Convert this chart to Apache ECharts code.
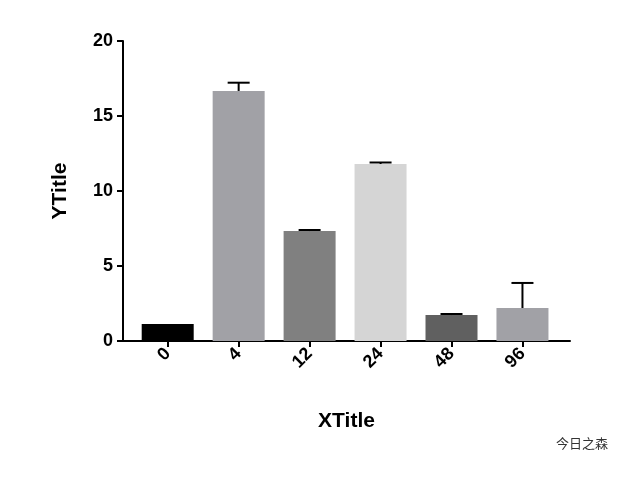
<!DOCTYPE html>
<html><head><meta charset="utf-8">
<script src="https://cdn.jsdelivr.net/npm/echarts@6/dist/echarts.min.js"></script>
<style>html,body{margin:0;background:#fff}#c{width:630px;height:478px}</style>
</head><body><div id="c"></div>
<script>
const categories = ['0','4','12','24','48','96'];
const means = [1.13, 16.67, 7.33, 11.8, 1.73, 2.2];
const errs = [0, 0.55, 0.07, 0.1, 0.07, 1.67];
const colors = ['#000000','#a1a1a6','#808080','#d5d5d5','#606060','#a1a1a6'];
const yTicks = [0,5,10,15,20];
const chart = echarts.init(document.getElementById('c'));
const idx = categories.map((_, i) => i);
chart.setOption({
  animation:false,
  grid:{left:123,right:60,top:41,bottom:137},
  xAxis:{type:'value',min:-0.63,max:5.67,
    axisLine:{onZero:false,lineStyle:{color:'#000',width:2}},
    axisTick:{show:true,customValues:idx,length:6,lineStyle:{color:'#000',width:2}},
    splitLine:{show:false},
    axisLabel:{customValues:idx,formatter:v=>categories[Math.round(v)],rotate:45,color:'#000',fontWeight:'bold',fontSize:18,fontFamily:'Liberation Sans',margin:10},
    name:'XTitle',nameLocation:'middle',nameGap:70,nameTextStyle:{color:'#000',fontWeight:'bold',fontSize:21,fontFamily:'Liberation Sans'}},
  yAxis:{type:'value',min:0,max:20,interval:5,
    axisLine:{show:true,onZero:false,lineStyle:{color:'#000',width:2}},
    axisTick:{show:true,length:6,lineStyle:{color:'#000',width:2}},
    splitLine:{show:false},
    axisLabel:{color:'#000',fontWeight:'bold',fontSize:18,fontFamily:'Liberation Sans',margin:10},
    name:'YTitle',nameLocation:'middle',nameGap:52,nameTextStyle:{color:'#000',fontWeight:'bold',fontSize:21,fontFamily:'Liberation Sans'}},
  series:[
    {type:'bar',barWidth:52,data:means.map((v,i)=>({value:[i,v],itemStyle:{color:colors[i]}}))},
    {type:'custom',data:means.map((v,i)=>[i,v,v+errs[i]]),z:5,
      renderItem:(p,api)=>{
        if(api.value(2)-api.value(1)<=0) return null;
        const a=api.coord([api.value(0),api.value(1)]),b=api.coord([api.value(0),api.value(2)]);
        const s={stroke:'#000',lineWidth:2};
        return {type:'group',children:[
          {type:'line',shape:{x1:a[0],y1:a[1],x2:b[0],y2:b[1]},style:s},
          {type:'line',shape:{x1:b[0]-11,y1:b[1],x2:b[0]+11,y2:b[1]},style:s}]};
      }}
  ],
  graphic:[{type:'text',right:22,bottom:28,style:{text:'今日之森',fontSize:13,fill:'#333',fontFamily:'Noto Sans CJK SC'}}]
});
</script></body></html>
